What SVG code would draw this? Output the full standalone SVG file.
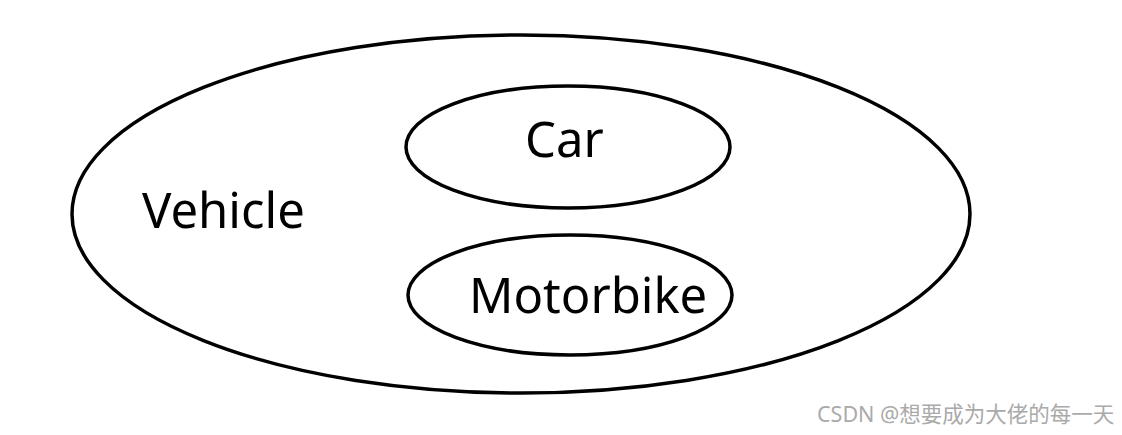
<svg xmlns="http://www.w3.org/2000/svg" width="1122" height="435" viewBox="0 0 1122 435">
<style>
.e{fill:none;stroke:#000;stroke-width:3.5}
.t{font-family:"Noto Sans","Open Sans",sans-serif;font-size:49px;fill:#000}
.w{font-family:"Noto Sans","Noto Sans CJK SC",sans-serif;font-size:21.5px;fill:#aaa}
</style>
<rect width="1122" height="435" fill="#fff"/>
<g id="vehicle"><ellipse class="e" cx="521" cy="214" rx="449" ry="179"/><text class="t" x="142" y="228">Vehicle</text></g>
<g id="car"><ellipse class="e" cx="568" cy="147" rx="162" ry="61"/><text class="t" x="525" y="157">Car</text></g>
<g id="motorbike"><ellipse class="e" cx="570" cy="295" rx="162" ry="60"/><text class="t" x="469" y="313">Motorbike</text></g>
<g id="connectors"/>
<text class="w" x="817" y="422">CSDN @想要成为大佬的每一天</text>
</svg>
